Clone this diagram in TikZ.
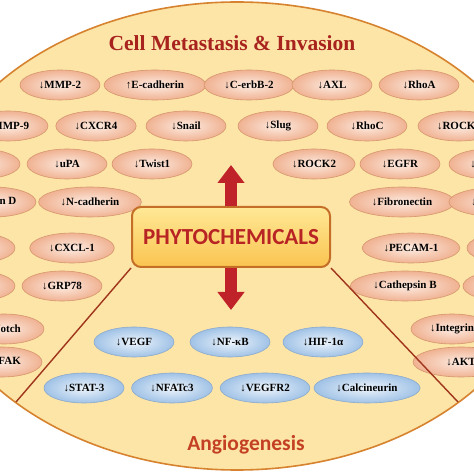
\documentclass[tikz,border=0pt]{standalone}
\usepackage{fontspec}
\setmainfont{Liberation Serif}
\newfontfamily\calibrifont{Carlito}
\usetikzlibrary{arrows.meta,shapes.geometric}

\definecolor{bigfill}{RGB}{252,229,166}
\definecolor{bigline}{RGB}{214,130,46}
\definecolor{pinkin}{RGB}{253,236,226}
\definecolor{pinkout}{RGB}{240,178,146}
\definecolor{pinkline}{RGB}{214,150,110}
\definecolor{bluein}{RGB}{238,245,252}
\definecolor{blueout}{RGB}{160,194,230}
\definecolor{blueline}{RGB}{140,170,205}
\definecolor{boxtop}{RGB}{255,232,150}
\definecolor{boxbot}{RGB}{250,196,80}
\definecolor{boxline}{RGB}{196,110,40}
\definecolor{phytored}{RGB}{184,36,36}
\definecolor{titlered}{RGB}{168,34,30}
\definecolor{angiored}{RGB}{196,64,36}
\definecolor{sectorline}{RGB}{160,52,28}
\definecolor{arrowred}{RGB}{192,34,42}

\begin{document}
\begin{tikzpicture}[x=1pt, y=1pt,
	pinkcell/.style={ellipse, draw=pinkline, line width=0.6pt, inner color=pinkin, outer color=pinkout,
		minimum width=80pt, minimum height=30pt, inner xsep=7pt, inner ysep=2pt,
		font=\fontsize{11}{13}\selectfont\bfseries},
	bluecell/.style={pinkcell, draw=blueline, inner color=bluein, outer color=blueout},
	redarrow/.style={arrowred, line width=12pt, -{Triangle[length=18pt,width=26pt]}},
	sector/.style={sectorline, line width=1.4pt}]

	\useasboundingbox (0,0) rectangle (474,474);
	\clip (0,0) rectangle (474,474);

	% outer ellipse
	\draw[fill=bigfill, draw=bigline, line width=1.6pt] (237,238) ellipse [x radius=315pt, y radius=234pt];

	\node[font=\fontsize{21.5}{25}\selectfont\bfseries, text=titlered] (title) at (232,431) {Cell Metastasis \& Invasion};
	\node[font=\calibrifont\bfseries\fontsize{21.5}{25}\selectfont, text=angiored] (angio) at (246,29) {Angiogenesis};

	% row 1
	\node[pinkcell] (mmpii) at (60,389) {↓MMP-2};
	\node[pinkcell] (ecad) at (155,389) {↑E-cadherin};
	\node[pinkcell] (cerbb) at (249,389) {↓C-erbB-2};
	\node[pinkcell] (axl) at (332,389) {↓AXL};
	\node[pinkcell] (rhoa) at (419,389) {↓RhoA};
	% row 2
	\node[pinkcell] (mmpix) at (8,348) {↓MMP-9};
	\node[pinkcell] (cxcr) at (96,348) {↓CXCR4};
	\node[pinkcell] (snail) at (186,348) {↓Snail};
	\node[pinkcell] (slug) at (278,348) {↓Slug};
	\node[pinkcell] (rhoc) at (367,348) {↓RhoC};
	\node[pinkcell] (rocki) at (459,348) {↓ROCK1};
	% row 3
	\node[pinkcell] (leftiii) at (-20,310) {};
	\node[pinkcell] (upa) at (67,310) {↓uPA};
	\node[pinkcell] (twist) at (152,310) {↓Twist1};
	\node[pinkcell] (rockii) at (314,310) {↓ROCK2};
	\node[pinkcell] (egfr) at (400,310) {↓EGFR};
	\node[pinkcell] (rightiii) at (489,310) {↓\phantom{XXXX}};
	% row 4
	\node[pinkcell] (cyclin) at (-7,272) {↓Cyclin D};
	\node[pinkcell] (ncad) at (90,272) {↓N-cadherin};
	\node[pinkcell] (fibro) at (402,272) {↓Fibronectin};
	\node[pinkcell] (rightiv) at (502,272) {↓\phantom{XXXXXXX}};
	% row 5
	\node[pinkcell] (leftv) at (-25,226) {};
	\node[pinkcell] (cxcl) at (72,226) {↓CXCL-1};
	\node[pinkcell] (pecam) at (411,226) {↓PECAM-1};
	\node[pinkcell] (rightv) at (507,226) {};
	% row 6
	\node[pinkcell] (leftvi) at (-25,188) {};
	\node[pinkcell] (grp) at (62,188) {↓GRP78};
	\node[pinkcell] (cathep) at (405,188) {↓Cathepsin B};
	\node[pinkcell] (rightvi) at (503,188) {};
	% rows 7 and 8
	\node[pinkcell] (notch) at (4,145) {↓Notch};
	\node[pinkcell] (integ) at (452,145) {↓Integrin};
	\node[pinkcell] (fak) at (2,112) {↓p-FAK};
	\node[pinkcell, minimum width=96pt] (akt) at (461,112) {↓AKT};

	% angiogenesis markers
	\node[bluecell] (vegf) at (134,132) {↓VEGF};
	\node[bluecell] (nfkb) at (230,132) {↓NF-κB};
	\node[bluecell] (hif) at (323,132) {↓HIF-1α};
	\node[bluecell] (stat) at (84,86) {↓STAT-3};
	\node[bluecell] (nfat) at (172,86) {↓NFATc3};
	\node[bluecell] (vegfr) at (265,86) {↓VEGFR2};
	\node[bluecell] (calci) at (367,86) {↓Calcineurin};

	% central box
	\node[draw=boxline, line width=2pt, rounded corners=9pt, top color=boxtop, bottom color=boxbot,
		minimum width=198pt, minimum height=60pt, text=phytored,
		font=\calibrifont\bfseries\fontsize{23}{27}\selectfont] (phyto) at (231,237) {PHYTOCHEMICALS};

	\coordinate (angleft) at (16,72);
	\coordinate (angright) at (458,72);
	\draw[sector] (phyto.south west) -- (angleft);
	\draw[sector] (phyto.south east) -- (angright);

	\coordinate (uptip) at (231,309);
	\coordinate (downtip) at (231,164);
	\draw[redarrow] (phyto.north) -- (uptip);
	\draw[redarrow] (phyto.south) -- (downtip);

\end{tikzpicture}
\end{document}
